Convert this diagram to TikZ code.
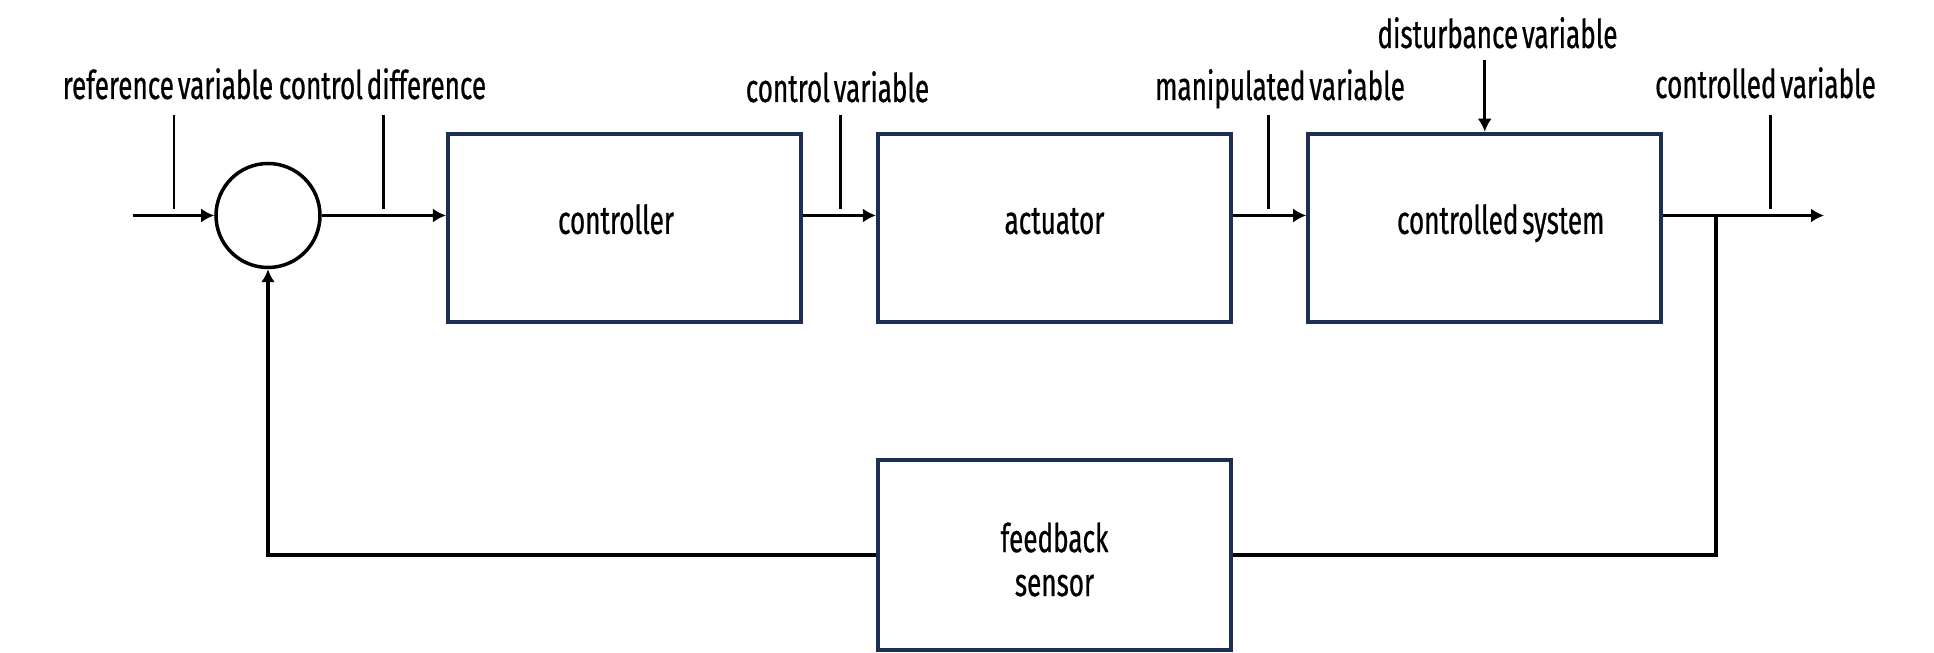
\documentclass[tikz,border=0pt]{standalone}
\usepackage{fontspec}
\setmainfont[FakeStretch=0.66,FakeBold=0.6,WordSpace=0.55]{Fira Sans}
\usepackage{tikz}
\usetikzlibrary{arrows.meta}
\usepackage{xcolor}
\definecolor{boxblue}{HTML}{1C2F52}

\begin{document}
\begin{tikzpicture}[font=\fontsize{22.5pt}{25pt}\selectfont]
\useasboundingbox (0,0) rectangle (38.68,13.06);
%%%%%%%%%%%%%%%%%%%%%%%%%%%%%%%%%%%%%%%%%%%%%%%%%%%%%%%%%%%%%%
%styles
\tikzstyle{block}=[draw=boxblue,line width=2.3pt,minimum width=7.06cm,minimum height=3.77cm,inner sep=0pt,text height=0.72em,text depth=0.05em]
\tikzstyle{summer}=[circle,draw,line width=2pt,minimum size=2.08cm,inner sep=0pt]
\tikzstyle{signal}=[line width=1.9pt,-{Latex[length=0.26cm,width=0.28cm]}]
\tikzstyle{tick}=[line width=1.7pt]

%%%%%%%%%%%%%%%%%%%%%%%%%%%%%%%%%%%%%%%%%%%%%%%%%%%%%%%%%%%%%%
%blocks
\node[summer] (sum) at (5.36,8.75) {};
\node[block] (controller) at (12.49,8.5) {controller\hspace*{0.34cm}};
\node[block] (actuator) at (21.09,8.5) {actuator};
\node[block] (plant) at (29.695,8.5) {\hspace*{0.64cm}controlled system};
\node[block,align=center,minimum height=3.8cm,text height=47pt,text depth=] (sensor) at (21.09,1.96) {feedback\\sensor};

%in / out
\coordinate (in) at (2.65,8.75);
\coordinate (branch) at (34.32,8.75);
\coordinate (out) at (36.48,8.75);
\coordinate (dist) at (29.695,11.85);

%%%%%%%%%%%%%%%%%%%%%%%%%%%%%%%%%%%%%%%%%%%%%%%%%%%%%%%%%%%%%%
%ARROWS
\draw[signal] (in) -- (sum.west);
\draw[signal] (sum.east) -- (sum.east -| controller.west);
\draw[signal] (controller.east |- sum) -- (actuator.west |- sum);
\draw[signal] (actuator.east |- sum) -- (plant.west |- sum);
\draw[signal] (plant.east |- sum) -- (out);
\draw[signal] (dist) -- (plant.north);
%feedback
\draw[line width=1.9pt] (branch) |- (sensor.east);
\draw[signal] (sensor.west) -| (sum.south);

%%%%%%%%%%%%%%%%%%%%%%%%%%%%%%%%%%%%%%%%%%%%%%%%%%%%%%%%%%%%%%
%LABELS
\coordinate (refTop) at (3.48,10.76);
\coordinate (refBot) at (3.48,8.87);
\draw[tick] (refTop) -- (refBot);
\node[anchor=base] (reflabel) at (3.36,11.08) {reference variable};

\coordinate (diffTop) at (7.67,10.76);
\coordinate (diffBot) at (7.67,8.87);
\draw[tick] (diffTop) -- (diffBot);
\node[anchor=base] (difflabel) at (7.65,11.08) {control difference};

\coordinate (ctrlTop) at (16.8,10.76);
\coordinate (ctrlBot) at (16.8,8.87);
\draw[tick] (ctrlTop) -- (ctrlBot);
\node[anchor=base] (ctrllabel) at (16.75,11.02) {control variable};

\coordinate (manTop) at (25.37,10.76);
\coordinate (manBot) at (25.37,8.87);
\draw[tick] (manTop) -- (manBot);
\node[anchor=base] (manlabel) at (25.6,11.06) {manipulated variable};

\node[anchor=base] (distlabel) at (29.95,12.1) {disturbance variable};

\coordinate (outTop) at (35.4,10.76);
\coordinate (outBot) at (35.4,8.87);
\draw[tick] (outTop) -- (outBot);
\node[anchor=base] (outlabel) at (35.31,11.1) {controlled variable};
\end{tikzpicture}
\end{document}
